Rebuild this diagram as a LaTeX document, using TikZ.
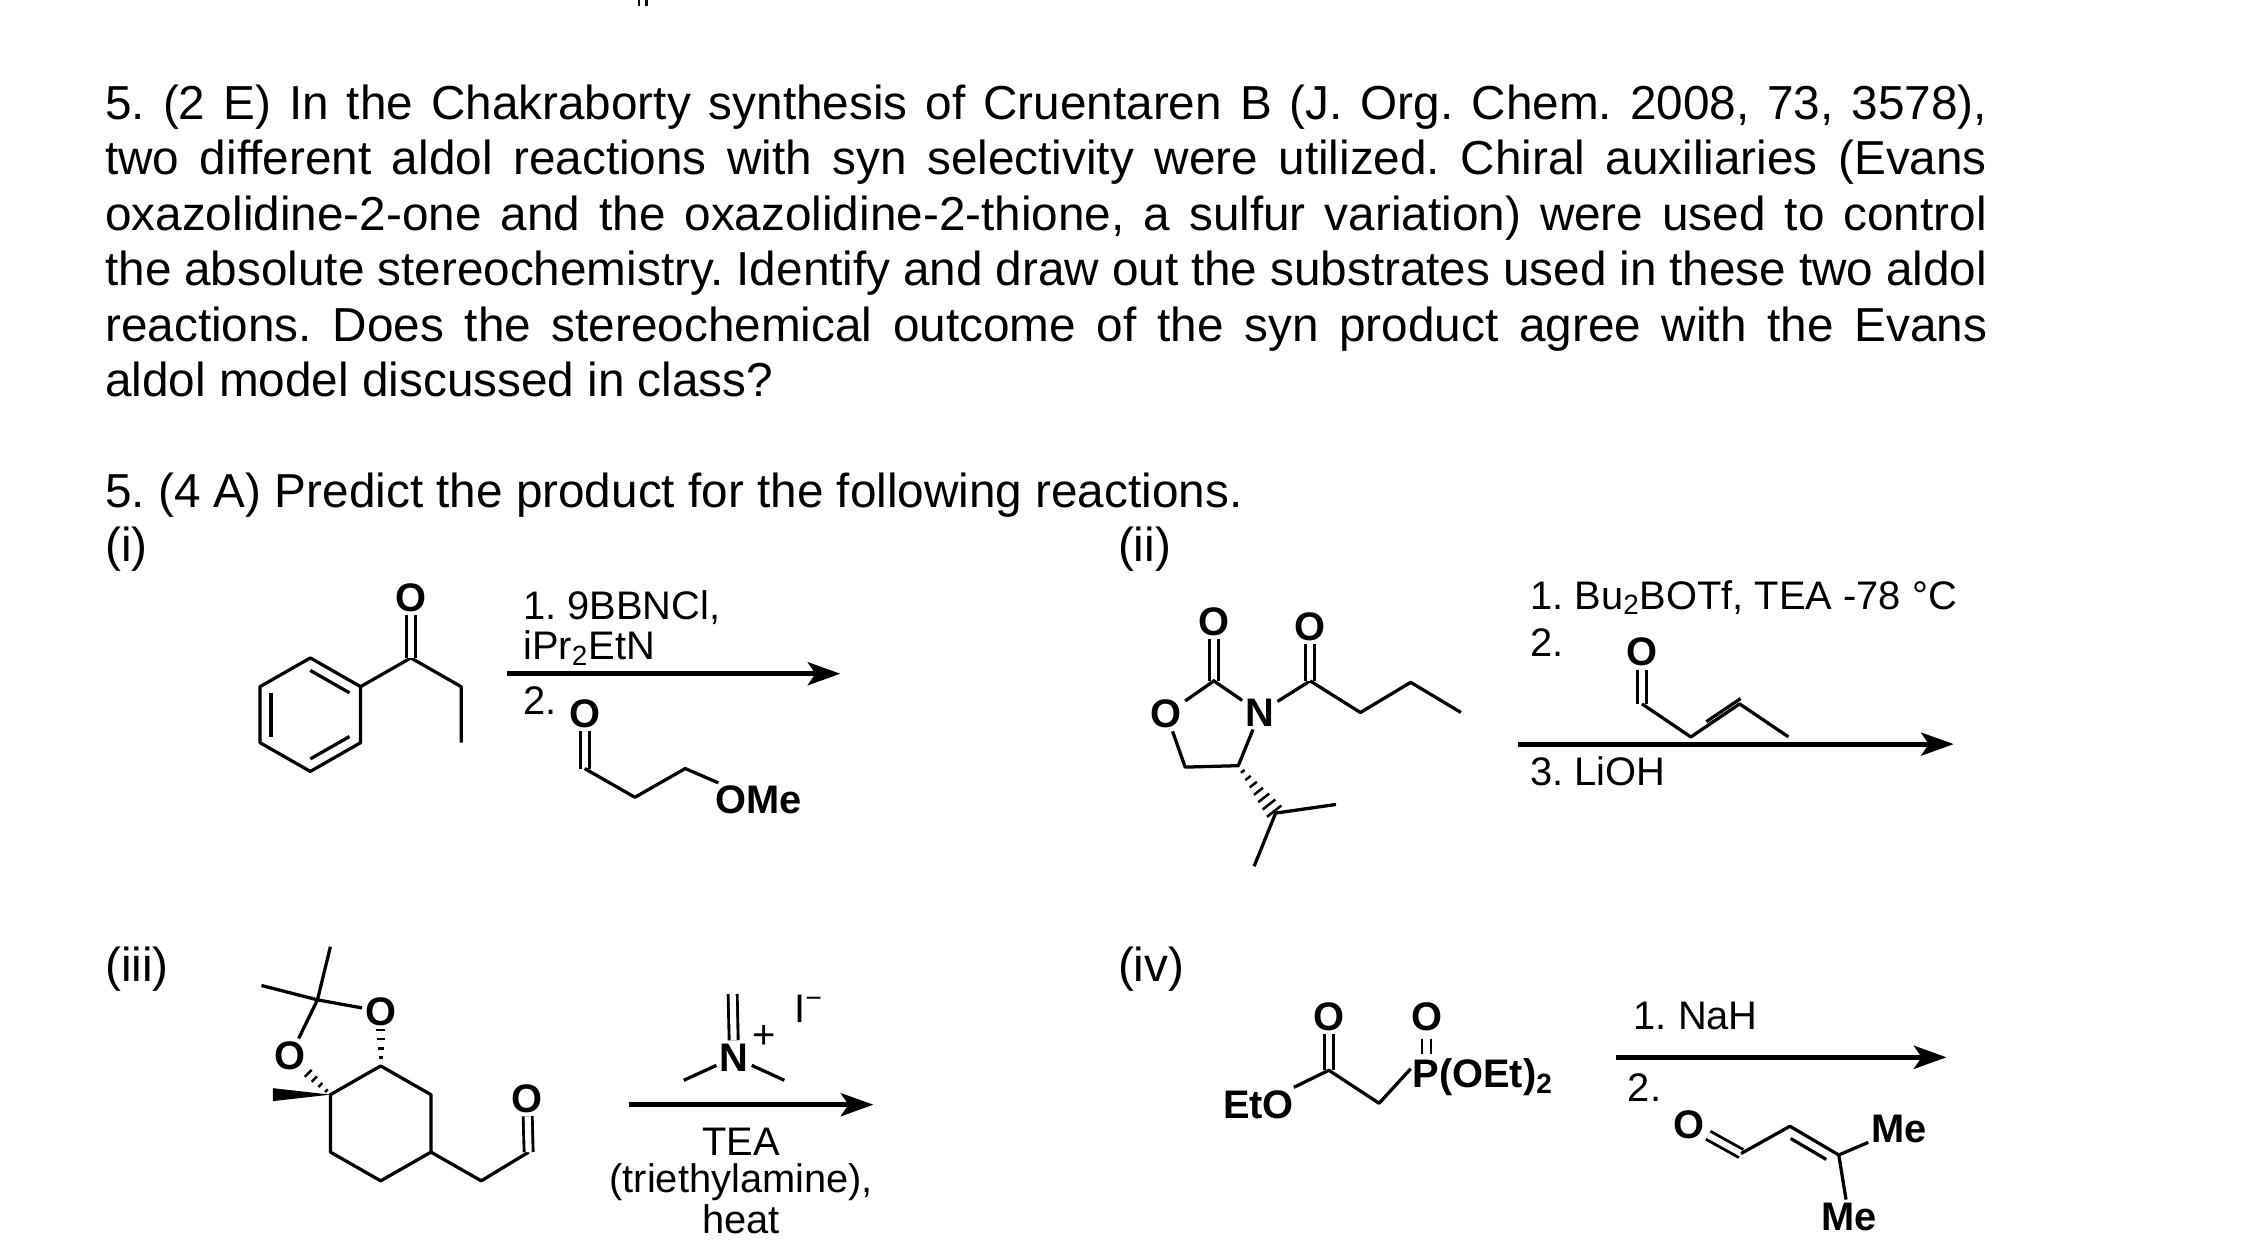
\documentclass[tikz,border=0pt]{standalone}
\usepackage{fontspec}
\setmainfont{Liberation Sans}
\usetikzlibrary{arrows.meta,calc}
\begin{document}
\frenchspacing
\begin{tikzpicture}[x=0.75pt,y=-0.75pt,
 q/.style={font=\fontsize{24.9}{29}\selectfont,inner sep=0pt,anchor=base west},
 rg/.style={font=\fontsize{20.8}{25}\selectfont,inner sep=0pt},
 atom/.style={font=\fontsize{20.8}{25}\selectfont\bfseries,inner sep=1.5pt},
 bond/.style={line width=1.7pt},
 dbl/.style={line width=1.5pt,double distance=3.2pt},
 rxn/.style={line width=2.6pt,-{Stealth[length=17pt,width=12pt,inset=4pt]}}]
\useasboundingbox (0,0) rectangle (1560,873);
\fill[white] (0,0) rectangle (1560,873);
% cut-off glyph at top
\draw[line width=1.2pt] (445,0) -- (445,4) (450,0) -- (450,4);
% question text
\node[q] (l1) at (73,83) {\makebox[982.5pt][s]{5. (2 E) In the Chakraborty synthesis of Cruentaren B (J. Org. Chem. 2008, 73, 3578),}};
\node[q] (l2) at (73,121.6) {\makebox[982.5pt][s]{two different aldol reactions with syn selectivity were utilized. Chiral auxiliaries (Evans}};
\node[q] (l3) at (73,160.2) {\makebox[982.5pt][s]{oxazolidine-2-one and the oxazolidine-2-thione, a sulfur variation) were used to control}};
\node[q] (l4) at (73,198.8) {\makebox[982.5pt][s]{the absolute stereochemistry. Identify and draw out the substrates used in these two aldol}};
\node[q] (l5) at (73,237.4) {\makebox[982.5pt][s]{reactions. Does the stereochemical outcome of the syn product agree with the Evans}};
\node[q] (l6) at (73,276) {aldol model discussed in class?};
\node[q] (l7) at (73,353) {5. (4 A) Predict the product for the following reactions.};
\node[q] (li) at (73,391) {(i)};
\node[q] (lii) at (778,391) {(ii)};
\node[q] (liii) at (73,683) {(iii)};
\node[q] (liv) at (778,683) {(iv)};

% ---------- (i)
\coordinate (b1) at (216,458); \coordinate (b2) at (251,478); \coordinate (b3) at (251,517);
\coordinate (b4) at (216,537); \coordinate (b5) at (181,517); \coordinate (b6) at (181,478);
\coordinate (bc) at (216,497.5);
\draw[bond,line join=round] (b1)--(b2)--(b3)--(b4)--(b5)--(b6)--cycle;
\draw[bond] ($(bc)!0.78!(b1)$)--($(bc)!0.78!(b2)$);
\draw[bond] ($(bc)!0.78!(b3)$)--($(bc)!0.78!(b4)$);
\draw[bond] ($(bc)!0.78!(b5)$)--($(bc)!0.78!(b6)$);
\coordinate (k1) at (286,458); \coordinate (k2) at (321,478); \coordinate (k3) at (321,517);
\node[atom] (ko) at (286,416) {O};
\draw[bond,line join=round] (b2)--(k1)--(k2)--(k3);
\draw[dbl] (k1)--(ko);
\coordinate (a1s) at (353,469); \coordinate (a1e) at (585,469);
\draw[rxn] (a1s)--(a1e);
\node[rg,anchor=west] (r1a) at (364,423) {1. 9BBNCl,};
\node[rg,anchor=west] (r1b) at (364,451) {iPr\textsubscript{2}EtN};
\node[rg,anchor=west] (r1c) at (364,488) {2.};
\node[atom] (ao) at (407,497) {O};
\coordinate (ac1) at (407,535); \coordinate (ac2) at (442,555); \coordinate (ac3) at (477,535);
\node[atom] (aome) at (528,557) {OMe};
\draw[dbl] (ac1)--(ao);
\draw[bond,line join=round] (ac1)--(ac2)--(ac3)--(aome);

% ---------- (ii)
\node[atom] (xo1) at (845,433) {O};
\coordinate (xc1) at (845,474);
\node[atom] (xo2) at (812,497) {O};
\node[atom] (xn) at (877,496) {N};
\coordinate (xc2) at (825,534); \coordinate (xc3) at (862,533);
\coordinate (xc4) at (888,566); \coordinate (xc5) at (930,560); \coordinate (xc6) at (873,603);
\coordinate (xc7) at (912,474);
\node[atom] (xo3) at (912,436) {O};
\coordinate (xc8) at (947,496); \coordinate (xc9) at (982,475); \coordinate (xc10) at (1017,496);
\draw[dbl] (xc1)--(xo1);
\draw[bond] (xo2)--(xc1)--(xn);
\draw[bond,line join=round] (xo2)--(xc2)--(xc3)--(xn);
\draw[bond] (xn)--(xc7);
\draw[dbl] (xc7)--(xo3);
\draw[bond,line join=round] (xc7)--(xc8)--(xc9)--(xc10);
\draw[bond,line join=round] (xc5)--(xc4)--(xc6);
\foreach \t/\w in {0.12/1.2,0.26/1.8,0.40/2.4,0.54/3.0,0.68/3.6,0.82/4.2,0.96/4.8}
  \draw[line width=1.3pt] ($(xc3)!\t!(xc4)!\w pt!90:(xc4)$)--($(xc3)!\t!(xc4)!\w pt!-90:(xc4)$);
\coordinate (a2s) at (1057,518); \coordinate (a2e) at (1360,518);
\draw[rxn] (a2s)--(a2e);
\node[rg,anchor=west] (r2a) at (1065,416) {1. Bu\textsubscript{2}BOTf, TEA -78 °C};
\node[rg,anchor=west] (r2b) at (1065,447) {2.};
\node[rg,anchor=west] (r2c) at (1065,537) {3. LiOH};
\node[atom] (co) at (1143,454) {O};
\coordinate (cc1) at (1143,490); \coordinate (cc2) at (1177,513);
\coordinate (cc3) at (1211,490); \coordinate (cc4) at (1245,513);
\draw[dbl] (cc1)--(co);
\draw[bond,line join=round] (cc1)--(cc2)--(cc3)--(cc4);
\draw[bond] ($(cc2)!0.2!(cc3)+(4,-6)$)--($(cc2)!0.9!(cc3)+(4,-6)$);

% ---------- (iii)
\coordinate (ta) at (221,696); \coordinate (tm1) at (230,659); \coordinate (tm2) at (182,686);
\node[atom] (to1) at (265,704) {O};
\node[atom] (to2) at (202,735) {O};
\coordinate (r1) at (265,742); \coordinate (r2) at (300,762); \coordinate (r3) at (300,802);
\coordinate (r4) at (265,822); \coordinate (r5) at (230,802); \coordinate (r6) at (230,762);
\coordinate (tw) at (190,762);
\coordinate (tc1) at (335,822); \coordinate (tc2) at (368,802);
\node[atom] (to3) at (367,765) {O};
\draw[bond] (ta)--(tm1) (ta)--(tm2) (ta)--(to1) (ta)--(to2);
\draw[bond,line join=round] (r1)--(r2)--(r3)--(r4)--(r5)--(r6)--cycle;
\fill (r6) -- ($(tw)+(0,-4.5)$) -- ($(tw)+(0,4.5)$) -- cycle;
\draw[bond,line join=round] (r3)--(tc1)--(tc2);
\draw[dbl] (tc2)--(to3);
\foreach \t/\w in {0.15/1.0,0.32/1.5,0.49/2.0,0.66/2.5}
  \draw[line width=1.3pt] ($(r1)!\t!(to1)!\w pt!90:(to1)$)--($(r1)!\t!(to1)!\w pt!-90:(to1)$);
\foreach \t/\w in {0.1/1.0,0.25/1.5,0.40/2.0,0.55/2.5}
  \draw[line width=1.3pt] ($(r6)!\t!(to2)!\w pt!90:(to2)$)--($(r6)!\t!(to2)!\w pt!-90:(to2)$);
% reagent
\node[atom] (en) at (511,736) {N};
\node[rg] (enp) at (532,722) {+};
\coordinate (ec) at (510,692);
\coordinate (ee1) at (476,752); \coordinate (ee2) at (546,752);
\draw[dbl] (en)--(ec);
\draw[bond] (en)--(ee1) (en)--(ee2);
\node[rg] (ei) at (563,702) {I\textsuperscript{−}};
\coordinate (a3s) at (438,769); \coordinate (a3e) at (608,769);
\draw[rxn] (a3s)--(a3e);
\node[rg] (r3a) at (516,795) {TEA};
\node[rg] (r3b) at (516,823) {(triethylamine),};
\node[rg] (r3c) at (516,849) {heat};

% ---------- (iv)
\node[atom] (po1) at (925,708) {O};
\coordinate (pc1) at (925,745);
\node[atom] (peto) at (876,769) {EtO};
\coordinate (pc2) at (960,768);
\coordinate (pcp) at (982,744);
\node[atom,anchor=west,inner sep=0pt] (pp) at (983,750) {P(OEt)\textsubscript{2}};
\node[atom] (po2) at (993,708) {O};
\coordinate (pq1) at (993,723); \coordinate (pq2) at (993,734);
\draw[dbl] (pc1)--(po1);
\draw[bond,line join=round] (peto)--(pc1)--(pc2)--(pcp);
\draw[dbl] (pq1)--(pq2);
\coordinate (a4s) at (1125,736); \coordinate (a4e) at (1355,736);
\draw[rxn] (a4s)--(a4e);
\node[rg,anchor=west] (r4a) at (1137,707) {1. NaH};
\node[rg,anchor=west] (r4b) at (1133,757) {2.};
\node[atom] (qo) at (1176,783) {O};
\coordinate (q1) at (1212,803); \coordinate (q2) at (1246,784); \coordinate (q3) at (1280,804);
\node[atom] (qme1) at (1322,786) {Me};
\node[atom] (qme2) at (1287,847) {Me};
\draw[dbl] (qo)--(q1);
\draw[bond,line join=round] (q1)--(q2)--(q3)--(qme1);
\draw[bond] (q3)--(qme2);
\draw[bond] ($(q2)!0.12!(q3)+(-3.6,6.1)$)--($(q2)!0.85!(q3)+(-3.6,6.1)$);
\end{tikzpicture}
\end{document}
